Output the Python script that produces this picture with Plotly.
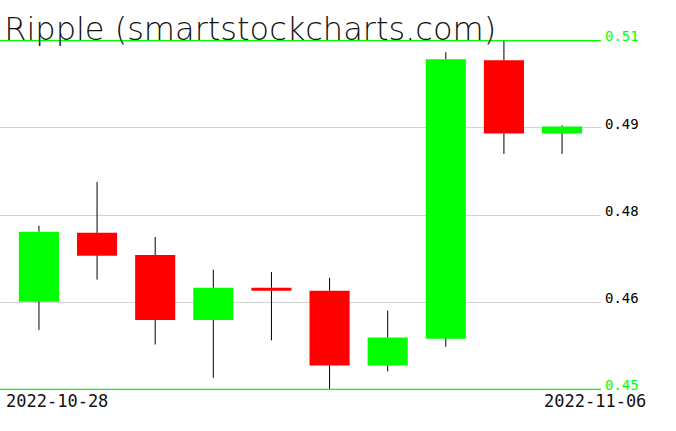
import plotly.graph_objects as go

# daily Ripple candles
dates = ["2022-10-28", "2022-10-29", "2022-10-30", "2022-10-31", "2022-11-01",
         "2022-11-02", "2022-11-03", "2022-11-04", "2022-11-05", "2022-11-06"]
opens = [0.4647, 0.4765, 0.4727, 0.4616, 0.4671, 0.4666, 0.4538, 0.4584, 0.5060, 0.4935]
highs = [0.4777, 0.4852, 0.4758, 0.4702, 0.4698, 0.4688, 0.4632, 0.5074, 0.5094, 0.4949]
lows = [0.4599, 0.4685, 0.4574, 0.4517, 0.4581, 0.4497, 0.4528, 0.4570, 0.4900, 0.4900]
closes = [0.4767, 0.4726, 0.4616, 0.4671, 0.4666, 0.4538, 0.4586, 0.5062, 0.4935, 0.4947]

UP = "#00ff00"
DOWN = "#ff0000"
GRID = "#d3d3d3"

lo, hi = min(lows), max(highs)
pad = (hi - lo) / 700  # half a pixel so the edge lines are not clipped
tick_vals = [lo + (hi - lo) * k / 4 for k in range(5)]
tick_text = []
for i, v in enumerate(tick_vals):
    label = f"{v:.2f}"
    if i in (0, 4):
        label = f'<span style="color:{UP}">{label}</span>'
    tick_text.append(label)

# wicks above and below each body, bodies as floating bars
body_top = [max(o, c) for o, c in zip(opens, closes)]
body_bot = [min(o, c) for o, c in zip(opens, closes)]
wick_x, wick_y = [], []
for d, l, h, t, b in zip(dates, lows, highs, body_top, body_bot):
    wick_x += [d, d, None, d, d, None]
    wick_y += [t, h, None, l, b, None]

body_len = [t - b for t, b in zip(body_top, body_bot)]
body_col = [UP if c >= o else DOWN for o, c in zip(opens, closes)]

fig = go.Figure()
fig.add_trace(go.Scatter(x=wick_x, y=wick_y, mode="lines",
                         line=dict(color="black", width=1), hoverinfo="skip"))
fig.add_trace(go.Bar(x=dates, y=body_len, base=body_bot, width=0.69,
                     marker=dict(color=body_col, line=dict(width=0))))

fig.update_layout(
    width=676, height=431,
    margin=dict(l=0, r=75, t=40, b=41, autoexpand=False),
    paper_bgcolor="white", plot_bgcolor="white",
    showlegend=False,
    title=dict(text="Ripple (smartstockcharts.com)", x=0.007, xanchor="left",
               xref="paper", yref="container", y=1 - 29 / 431, yanchor="middle",
               font=dict(family="DejaVu Sans", size=32, color="#111", weight=200)),
    font=dict(family="DejaVu Sans Mono", size=14, color="black"),
)
fig.update_xaxes(type="category", range=[-0.67, 9.67], showticklabels=False,
                 showgrid=False, zeroline=False, showline=False, ticks="")
fig.update_yaxes(side="right", range=[lo - pad, hi + pad], tickvals=tick_vals,
                 ticktext=tick_text, showgrid=True, gridcolor=GRID, gridwidth=1,
                 zeroline=False, showline=False, ticks="", ticklabelstandoff=3,
                 ticklabelshift=-4)

# green lines at the lowest low and highest high
for v in (lo, hi):
    fig.add_shape(type="line", xref="paper", yref="y", x0=0, x1=1, y0=v, y1=v,
                  line=dict(color=UP, width=1.5), layer="above")

fig.add_annotation(text=dates[0], xref="paper", yref="paper", x=0, y=0,
                   xanchor="left", yanchor="top", xshift=4, yshift=1, showarrow=False,
                   font=dict(family="DejaVu Sans Mono", size=17, color="#111"))
fig.add_annotation(text=dates[-1], xref="paper", yref="paper", x=1, y=0,
                   xanchor="right", yanchor="top", xshift=47, yshift=1, showarrow=False,
                   font=dict(family="DejaVu Sans Mono", size=17, color="#111"))

fig.write_html("out.html", config={"displayModeBar": False},
               post_script="document.body.style.margin='0';")
